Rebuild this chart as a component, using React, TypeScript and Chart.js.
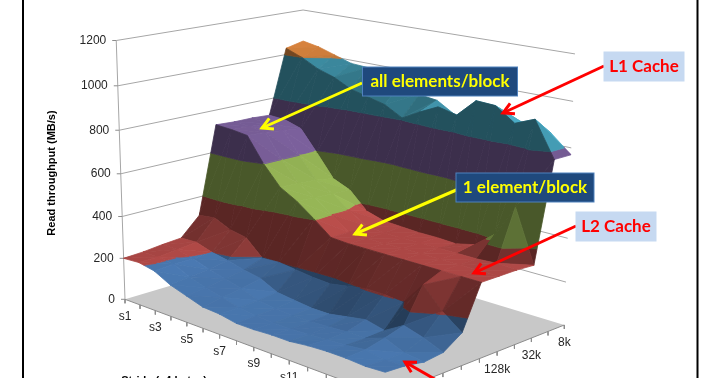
import React, { useEffect, useRef } from "react";
import { Chart, registerables } from "chart.js";

Chart.register(...registerables);

const strideLabels = ["s1","s2","s3","s4","s5","s6","s7","s8","s9","s10","s11","s12","s13","s14","s15","s16"];
const sizeLabels = ["8k","16k","32k","64k","128k","256k","512k","1m","2m","4m","8m"];
const zTicks = [0,200,400,600,800,1000,1200];

const size8k =   [1050,1035,1010,985,980,960,940,900,890,840,790,800,800,850,845,770];
const size16k =  [1030,1000,960,935,895,875,855,810,855,895,875,955,950,890,925,770];
const size32k =  [720,715,690,590,485,450,370,345,340,335,335,330,350,420,565,330];
const size64k =  [725,715,700,600,500,455,395,345,335,335,335,335,335,335,340,335];
const size128k = [725,720,710,600,505,460,400,340,335,335,335,335,335,335,335,335];
const size256k = [730,725,715,600,510,465,405,340,335,335,335,335,335,335,335,335];
const size512k = [310,320,285,270,195,200,190,180,175,190,205,205,195,300,210,145];
const size1m =   [222,225,200,185,165,150,110,100,90,90,105,120,100,150,125,90];
const size2m =   [215,215,195,170,150,130,100,90,85,85,90,95,95,125,90,80];
const size4m =   [205,205,195,160,135,115,95,85,80,80,85,90,95,105,90,95];
const size8m =   [200,205,190,150,125,100,95,80,80,85,85,95,100,100,95,100];
const surface = [size8k,size16k,size32k,size64k,size128k,size256k,size512k,size1m,size2m,size4m,size8m];

const bandColors = [[79,129,189],[192,80,77],[155,187,89],[128,100,162],[75,172,198],[247,150,70]];

// camera: floor corners on screen
const K = [304,246], R = [564.3,325], F = [385,396], L = [125,299.3];
const dx1=R[0]-F[0], dx2=L[0]-F[0], sx=K[0]-R[0]+F[0]-L[0];
const dy1=R[1]-F[1], dy2=L[1]-F[1], sy=K[1]-R[1]+F[1]-L[1];
const det=dx1*dy2-dx2*dy1;
const g=(sx*dy2-dx2*sy)/det, h=(dx1*sy-sx*dy1)/det;
const nS=strideLabels.length-1, nK=sizeLabels.length-1;

function project(s:number,k:number,z:number){
  const u=s/nS, v=k/nK;
  const den=g*u+h*v+1;
  const x0=((R[0]-K[0]+g*R[0])*u+(L[0]-K[0]+h*L[0])*v+K[0])/den;
  const y0=((R[1]-K[1]+g*R[1])*u+(L[1]-K[1]+h*L[1])*v+K[1])/den;
  const t=z/1200, H=236/den*t*(0.94+0.06*t);
  return {x:x0+(x0-328)*H/6000,y:y0-H};
}

type P=[number,number,number];
function clip(poly:P[],lo:number,hi:number):P[]{
  const cut=(pts:P[],lim:number,keepAbove:boolean)=>{
    const out:P[]=[];
    for(let i=0;i<pts.length;i++){
      const a=pts[i],b=pts[(i+1)%pts.length];
      const ina=keepAbove?a[2]>=lim:a[2]<=lim, inb=keepAbove?b[2]>=lim:b[2]<=lim;
      if(ina)out.push(a);
      if(ina!==inb){const f=(lim-a[2])/(b[2]-a[2]);out.push([a[0]+f*(b[0]-a[0]),a[1]+f*(b[1]-a[1]),lim]);}
    }
    return out;
  };
  return cut(cut(poly,lo,true),hi,false);
}
function shade(a:P,b:P,c:P){
  const ux=b[0]-a[0],uy=b[1]-a[1],uz=(b[2]-a[2])/100,vx=c[0]-a[0],vy=c[1]-a[1],vz=(c[2]-a[2])/100;
  let nx=uy*vz-uz*vy,ny=uz*vx-ux*vz,nz=ux*vy-uy*vx;
  if(nz<0){nx=-nx;ny=-ny;nz=-nz;}
  const l=Math.hypot(nx,ny,nz);
  const d=(0.45*nx-0.45*ny+0.77*nz)/l;
  return Math.min(1,0.47+0.55*Math.max(0,d));
}
function tri(a:P,b:P,c:P,out:any[]){
  const br=shade(a,b,c);
  bandColors.forEach((col,i)=>{
    const poly=clip([a,b,c],i*200,(i+1)*200);
    if(poly.length<3)return;
    const color=`rgb(${Math.round(col[0]*br)},${Math.round(col[1]*br)},${Math.round(col[2]*br)})`;
    const pts=poly.map(p=>project(p[0],p[1],p[2]));
    pts.push(pts[0]);
    out.push({data:pts,showLine:true,fill:"shape",pointRadius:0,borderWidth:0.8,borderColor:color,backgroundColor:color,tension:0});
  });
}
const line=(pts:{x:number,y:number}[],color:string,w:number)=>({data:pts,showLine:true,fill:false,pointRadius:0,borderWidth:w,borderColor:color,tension:0});
function arrow(from:number[],to:number[],color:string,out:any[]){
  out.push({...line([{x:from[0],y:from[1]},{x:to[0],y:to[1]}],color,3)});
  const a=Math.atan2(from[1]-to[1],from[0]-to[0]);
  const wing=(d:number)=>({x:to[0]+12*Math.cos(a+d),y:to[1]+12*Math.sin(a+d)});
  out.push({...line([wing(0.5),{x:to[0],y:to[1]},wing(-0.5)],color,3),borderJoinStyle:"miter"});
}

const textBoxes=[
  {text:"all elements/block",x:362.5,y:67,w:155,h:29,fill:"#1F497D",edge:"#4F81BD",color:"#FFFF00"},
  {text:"1 element/block",x:456,y:173,w:138,h:29,fill:"#1F497D",edge:"#4F81BD",color:"#FFFF00"},
  {text:"L1 Cache",x:604,y:52,w:80,h:29,fill:"#C6D9F1",edge:"#C6D9F1",color:"#FF0000"},
  {text:"L2 Cache",x:576,y:212,w:80,h:29,fill:"#C6D9F1",edge:"#C6D9F1",color:"#FF0000"},
];

const labelPlugin={
  id:"labels",
  afterDatasetsDraw(chart:any){
    const c=chart.ctx;
    c.save();
    c.textBaseline="middle";
    c.fillStyle="#262626";
    c.font='12px "Liberation Sans"';
    c.textAlign="right";
    zTicks.forEach(z=>{const p=project(0,nK,z);c.fillText(String(z),p.x-10,p.y);});
    c.textAlign="center";
    strideLabels.forEach((t,i)=>{if(i%2===0){const p=project(i,nK,0);c.fillText(t,p.x,p.y+17);}});
    sizeLabels.forEach((t,i)=>{if(i%2===0){const p=project(nS,i,0);c.fillText(t,p.x,p.y+18);}});
    c.fillStyle="#000";
    c.font='bold 11px "Liberation Sans"';
    c.fillText("Stride (x4 bytes)",164,381);
    c.save();
    c.translate(52,173);
    c.rotate(-Math.PI/2);
    c.fillText("Read throughput (MB/s)",0,0);
    c.restore();
    c.font='bold 17px Lato';
    textBoxes.forEach(b=>{
      c.fillStyle=b.fill;c.fillRect(b.x,b.y,b.w,b.h);
      c.strokeStyle=b.edge;c.lineWidth=1;c.strokeRect(b.x,b.y,b.w,b.h);
      c.fillStyle=b.color;c.fillText(b.text,b.x+b.w/2,b.y+b.h/2+0.5);
    });
    c.restore();
  }
};

function buildDatasets(){
  const ds:any[]=[];
  // floor
  const fl=[project(0,0,0),project(nS,0,0),project(nS,nK,0),project(0,nK,0)];
  fl.push(fl[0]);
  ds.push({data:fl,showLine:true,fill:"shape",pointRadius:0,borderWidth:0,backgroundColor:"#C8C8C8",borderColor:"#C8C8C8"});
  // walls
  zTicks.slice(1).forEach(z=>ds.push(line([project(0,nK,z),project(0,0,z),project(nS,0,z)],"#A6A6A6",1)));
  // axes
  ds.push(line([project(0,nK,0),project(0,nK,1200)],"#A6A6A6",1));
  ds.push(line([project(0,nK,0),project(nS,nK,0)],"#8C8C8C",1));
  ds.push(line([project(nS,nK,0),project(nS,0,0)],"#8C8C8C",1));
  zTicks.forEach(z=>{const p=project(0,nK,z);ds.push(line([{x:p.x-4,y:p.y},p],"#8C8C8C",1));});
  strideLabels.forEach((_,i)=>{const p=project(i,nK,0);ds.push(line([p,{x:p.x,y:p.y+4}],"#8C8C8C",1));});
  sizeLabels.forEach((_,i)=>{const p=project(nS,i,0);ds.push(line([p,{x:p.x,y:p.y+4}],"#8C8C8C",1));});
  // surface, back to front
  for(let s=0;s<nS;s++){
    for(let k=0;k<nK;k++){
      const a:P=[s,k,surface[k][s]],b:P=[s+1,k,surface[k][s+1]],c:P=[s,k+1,surface[k+1][s]],d:P=[s+1,k+1,surface[k+1][s+1]];
      tri(a,b,c,ds);
      tri(b,d,c,ds);
    }
  }
  arrow([362,83],[262,128],"#FFFF00",ds);
  arrow([470,184],[355,234],"#FFFF00",ds);
  arrow([604,66],[503,113],"#FF0000",ds);
  arrow([576,226],[474,273],"#FF0000",ds);
  arrow([445,385],[405,362],"#FF0000",ds);
  // page rules
  ds.push(line([{x:23,y:0},{x:23,y:378}],"#000",2));
  ds.push(line([{x:697.5,y:0},{x:697.5,y:378}],"#000",2));
  // Chart.js paints the last dataset first
  return ds.reverse();
}

export default function App(){
  const ref=useRef<HTMLCanvasElement>(null);
  useEffect(()=>{
    const chart=new Chart(ref.current!,{
      type:"scatter",
      data:{datasets:buildDatasets()},
      options:{
        animation:false,responsive:false,
        layout:{padding:0},
        plugins:{legend:{display:false},tooltip:{enabled:false}},
        scales:{x:{type:"linear",min:0,max:720,display:false},y:{type:"linear",min:0,max:378,reverse:true,display:false}},
      },
      plugins:[labelPlugin],
    } as any);
    return ()=>chart.destroy();
  },[]);
  return <div style={{position:"absolute",left:0,top:0,width:720,height:378,background:"#fff"}}>
    <canvas ref={ref} width={720} height={378} style={{display:"block"}}/>
  </div>;
}
